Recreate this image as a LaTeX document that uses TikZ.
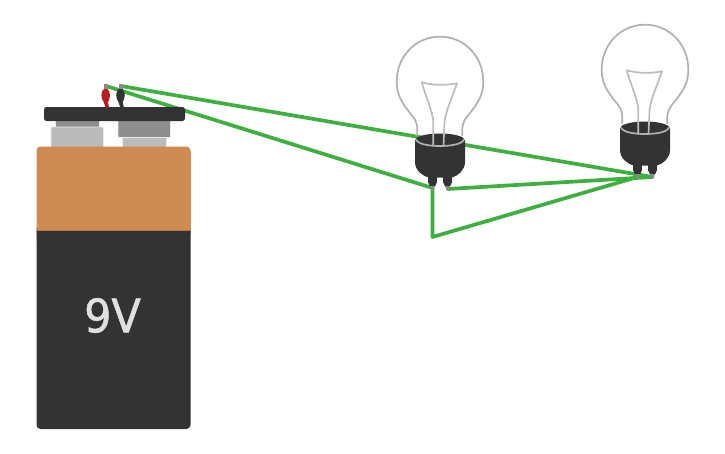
\documentclass[tikz,border=0pt]{standalone}
\usepackage{fontspec}
\setmainfont{DejaVu Sans}
\newfontfamily\ninevfont[FakeBold=1.2]{DejaVu Sans}
\definecolor{wire}{HTML}{3DB03F}
\definecolor{dark}{HTML}{333333}
\definecolor{copper}{HTML}{CE8C52}
\definecolor{metalL}{HTML}{BBBBBB}
\definecolor{metalD}{HTML}{8E8E8E}
\definecolor{glass}{HTML}{B0B0B0}
\definecolor{tipgray}{HTML}{8A8A8A}
\definecolor{leadred}{HTML}{B81C1C}
\tikzset{
  wirepath/.style={draw=wire,line width=3.7pt,line join=round,line cap=round},
  glassline/.style={draw=glass,line width=1.7pt,line join=round,fill=none},
  filline/.style={draw=glass!85!white,line width=1.7pt,line join=round},
  bodyfill/.style={fill=dark,draw=none},
  pole/.style={draw=white!92!black,line width=0.6pt},
  pics/bulb/.style={code={
    \draw[glassline] (417.3,136) -- (417.3,129) .. controls (417,121) and (414,118) .. (410,113)
      .. controls (402,103) and (396.7,95) .. (396.7,81.7)
      .. controls (396.7,56) and (416,36.7) .. (440,36.7)
      .. controls (464,36.7) and (483.3,56) .. (483.3,81.7)
      .. controls (483.3,95) and (478,103) .. (470,113)
      .. controls (466,118) and (462.7,121) .. (462.3,129) -- (462.3,136);
    \path[bodyfill] (415,140) -- (415,162) .. controls (415,170) and (422,176) .. (429,177.5)
      -- (452,177.5) .. controls (458,176) and (465,170) .. (465,162) -- (465,140) -- cycle;
    \path[bodyfill] (440,140) ellipse [x radius=24.5,y radius=6.5];
    \draw[filline] (433.3,146) -- (433.3,122) .. controls (433,113) and (427,100) .. (421.7,82.3)
      .. controls (433,85.5) and (446,85.5) .. (457,83.3)
      .. controls (452,98) and (446,110) .. (444.5,122) -- (443.5,146);
    \draw[glass,line width=1.7pt] (416,139.5) .. controls (418,144.5) and (430,146) .. (440,146)
      .. controls (450,146) and (462,144.5) .. (464,139.5);
    \foreach \tx in {432.5,447.5}{
      \path[fill=dark] (\tx-4.5,176) rectangle (\tx+4.5,183);
      \path[fill=dark] (\tx-4,183) -- (\tx+4,183) -- (\tx+2.5,186.5) -- (\tx-2.5,186.5) -- cycle;
      \path[fill=tipgray] (\tx-2.5,186) -- (\tx+2.5,186) -- (\tx+1,190) -- (\tx-1,190) -- cycle;
    }
  }}
}
\begin{document}
\begin{tikzpicture}[x=1pt,y=-1pt]
\useasboundingbox (0,0) rectangle (725,453);
% terminal anchors
\coordinate (redT) at (106,86);
\coordinate (blackT) at (121,86);
\coordinate (aL) at (432.5,188);
\coordinate (aR) at (447.5,189);
\coordinate (bL) at (637.5,177);
\coordinate (bR) at (652.5,177);
\coordinate (corner) at (432.5,237);
% wires
\draw[wirepath] (redT) -- (aL);
\draw[wirepath] (blackT) -- (bR);
\draw[wirepath] (aR) -- (bR);
\draw[wirepath] (aL) -- (corner) -- (bL);
% battery
\path[fill=metalD,pole] (55,120) rectangle (99.5,128);
\path[fill=metalL,pole,rounded corners=1pt] (51,127) rectangle (103.5,148);
\path[fill=metalL,pole] (122,135) rectangle (166.5,148);
\path[fill=metalD,pole,rounded corners=1pt] (118,120) rectangle (170.5,137.5);
\path[fill=dark,rounded corners=2.5pt] (44,107) rectangle (185,121);
\path[fill=copper,rounded corners=4pt] (36.5,146.5) rectangle (190.5,240);
\path[fill=dark,rounded corners=4pt] (36.5,225) rectangle (190.5,429);
\path[fill=copper] (36.5,152) rectangle (190.5,230);
\draw[copper!85!black,line width=0.4pt] (36.5,230) -- (190.5,230);
\node[text=white!88!black,font=\ninevfont\fontsize{43}{43}\selectfont,inner sep=0pt,anchor=center,yscale=1.07] (label9v) at (112.5,315.5) {9V};
% battery leads
\foreach \lx/\col in {105.7/leadred,120.5/dark}{
  \path[fill=\col] (\lx+0.8,88) .. controls (\lx+3.2,89.5) and (\lx+4.3,92.5) .. (\lx+4.3,95)
    .. controls (\lx+4.3,98) and (\lx+3.2,100.5) .. (\lx+2.2,102) -- (\lx+3.4,107.5) -- (\lx-0.2,107.5)
    -- (\lx-2,102) .. controls (\lx-3.2,100.5) and (\lx-4.3,98) .. (\lx-4.3,95)
    .. controls (\lx-4.3,92.5) and (\lx-3.2,89.5) .. (\lx-0.8,88) -- cycle;
  \path[fill=tipgray] (\lx-1.7,84) rectangle (\lx+2.3,88.5);
}
% bulbs
\pic (bulbA) {bulb};
\begin{scope}[shift={(205,-12)}]
\pic (bulbB) {bulb};
\end{scope}
\end{tikzpicture}
\end{document}
